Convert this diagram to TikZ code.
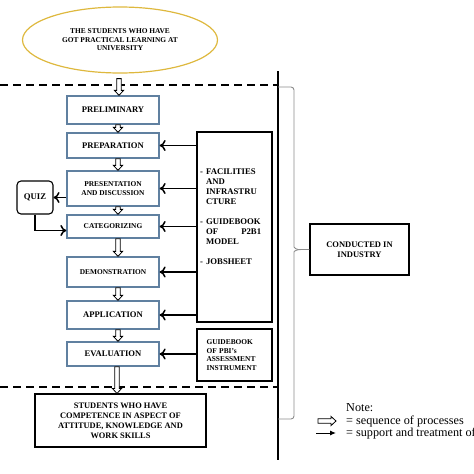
\documentclass[tikz,border=0pt]{standalone}
\usepackage{fontspec}
\setmainfont{Liberation Serif}
\usepackage{xcolor}
\usetikzlibrary{shapes.geometric, arrows.meta, calc}
\definecolor{stageblue}{RGB}{96,128,160}
\definecolor{ovalgold}{RGB}{222,184,62}
\definecolor{bracegray}{RGB}{140,140,140}
\tikzstyle{oval}     = [ellipse, minimum width=195pt, minimum height=66pt, text centered, draw=ovalgold, line width=1.2pt, font=\bfseries\fontsize{7.4}{8.5}\selectfont]
\tikzstyle{stage}    = [rectangle, minimum width=92pt, text centered, draw=stageblue, line width=1.3pt, font=\bfseries\fontsize{8.6}{10}\selectfont]
\tikzstyle{stagesm}  = [stage, font=\bfseries\fontsize{7.4}{9}\selectfont]
\tikzstyle{plainbox} = [rectangle, text centered, draw=black, line width=1.1pt, font=\bfseries\fontsize{8.5}{10.5}\selectfont]
\tikzstyle{feedarrow} = [line width=1.5pt, -{Computer Modern Rightarrow[length=6pt, width=11pt, line width=1.5pt]}]
\tikzstyle{legend}   = [line width=1pt, -{Latex[length=6pt,width=5pt]}]
\tikzstyle{cut}      = [line width=1.6pt, dash pattern=on 8pt off 5pt]
\tikzstyle{brace}    = [draw=bracegray, line width=0.9pt, rounded corners=3pt]
\tikzstyle{seqarrow} = [draw, line width=0.8pt, fill=white, to path={
    let \p1=(\tikztostart), \p2=(\tikztotarget),
        \n1={veclen(\x2-\x1,\y2-\y1)}, \n2={(\x2-\x1)/\n1}, \n3={(\y2-\y1)/\n1} in
    ({\x1-2.3*(\n3)},{\y1+2.3*(\n2)})
    -- ({\x2-5*(\n2)-2.3*(\n3)},{\y2-5*(\n3)+2.3*(\n2)})
    -- ({\x2-5*(\n2)-4.6*(\n3)},{\y2-5*(\n3)+4.6*(\n2)})
    -- (\x2,\y2)
    -- ({\x2-5*(\n2)+4.6*(\n3)},{\y2-5*(\n3)-4.6*(\n2)})
    -- ({\x2-5*(\n2)+2.3*(\n3)},{\y2-5*(\n3)-2.3*(\n2)})
    -- ({\x1+2.3*(\n3)},{\y1-2.3*(\n2)}) -- cycle}]
\tikzset{every node/.style={align=center}}

\begin{document}
\begin{tikzpicture}[x=1pt, y=-1pt]
    \useasboundingbox (0,0) rectangle (474,474);

    \node (top)  at (120,40)    [oval]    {THE STUDENTS WHO HAVE\\GOT PRACTICAL LEARNING AT\\UNIVERSITY};
    \node (prel) at (113,110)   [stage,   minimum height=28pt] {PRELIMINARY};
    \node (prep) at (113,145.5) [stage,   minimum height=25pt] {PREPARATION};
    \node (pres) at (113,188.5) [stagesm, minimum height=35pt] {PRESENTATION\\AND DISCUSSION};
    \node (cat)  at (113,226.5) [stagesm, minimum height=23pt] {CATEGORIZING};
    \node (demo) at (113,272)   [stagesm, minimum height=30pt] {DEMONSTRATION};
    \node (app)  at (113,315)   [stage,   minimum height=28pt] {APPLICATION};
    \node (eval) at (113,354)   [stage,   minimum height=24pt] {EVALUATION};
    \node (quiz) at (35,197.5)  [plainbox, rounded corners=4pt, minimum width=36pt, minimum height=33pt,
                                 font=\bfseries\fontsize{8.7}{10}\selectfont] {QUIZ};
    \node (final) at (120.5,420.5) [plainbox, minimum width=171pt, minimum height=53pt,
                                 font=\bfseries\fontsize{8.4}{10}\selectfont]
          {STUDENTS WHO HAVE\\COMPETENCE IN ASPECT OF\\ATTITUDE, KNOWLEDGE AND\\WORK SKILLS};

    % supporting resources
    \node (res)  at (234.5,227) [plainbox, minimum width=75pt, minimum height=190pt] {};
    \node (reslist) at (200,167) [anchor=north west, inner sep=0pt, align=left,
                                 font=\bfseries\fontsize{8.7}{10}\selectfont]
          {\begin{tabular}{@{}l@{\hspace{3pt}}p{55pt}@{}}
           - & FACILITIES\\ & AND\\ & INFRASTRU\\ & CTURE\\ & \\
           - & GUIDEBOOK\\ & OF\hfill P2B1\\ & MODEL\\ & \\
           - & JOBSHEET
           \end{tabular}};
    \node (inst) at (234.5,355) [plainbox, minimum width=75pt, minimum height=52pt, text width=56pt, align=left,
                                 font=\bfseries\fontsize{7.4}{8.8}\selectfont]
          {GUIDEBOOK\\OF PBI's\\ASSESSMENT\\INSTRUMENT};
    \node (ind)  at (359.5,249.5) [plainbox, minimum width=99pt, minimum height=51pt] {CONDUCTED IN\\INDUSTRY};

    % frame
    \draw [cut] (0,85) -- (278,85);
    \draw [cut] (0,387) -- (278,387);
    \draw [line width=1.6pt] (278,71) -- (278,460);
    \draw [brace] (278,87) -- (294,87) -- (294,244) .. controls (294,248) and (297,249.5) .. (301,249.5) -- (ind.west);
    \draw [brace] (278,419) -- (294,419) -- (294,255) .. controls (294,251) and (297,249.5) .. (301,249.5);

    % sequence of processes
    \draw [seqarrow] ([xshift=-1pt,yshift=-5pt]top.south) to ([xshift=6pt]prel.north);
    \draw [seqarrow] ([xshift=5pt]prel.south) to ([xshift=5pt]prep.north);
    \draw [seqarrow] ([xshift=5pt]prep.south) to ([xshift=5pt]pres.north);
    \draw [seqarrow] ([xshift=5pt]pres.south) to ([xshift=5pt]cat.north);
    \draw [seqarrow] ([xshift=5pt]cat.south)  to ([xshift=5pt]demo.north);
    \draw [seqarrow] ([xshift=5pt]demo.south) to ([xshift=5pt]app.north);
    \draw [seqarrow] ([xshift=5pt]app.south)  to ([xshift=5pt]eval.north);
    \draw [seqarrow] ([xshift=4pt]eval.south) to ([xshift=-3.5pt]final.north);

    % support
    \draw [feedarrow] (res.west |- prep.east) -- (prep.east);
    \draw [feedarrow] (res.west |- pres.east) -- (pres.east);
    \draw [feedarrow] (res.west |- cat.east)  -- (cat.east);
    \draw [feedarrow] (res.west |- demo.east) -- (demo.east);
    \draw [feedarrow] (res.west |- app.east)  -- (app.east);
    \draw [feedarrow] (inst.west |- eval.east) -- (eval.east);
    \draw [feedarrow] (pres.west |- quiz.east) -- (quiz.east);
    \draw [feedarrow] (quiz.south) |- ([yshift=-4pt]cat.west);

    % note
    \node (note)   at (346,411) [anchor=base west, inner sep=0pt, font=\fontsize{12.2}{14}\selectfont] {Note:};
    \node (seqtxt) at (346,424) [anchor=base west, inner sep=0pt, font=\fontsize{12.2}{14}\selectfont] {= sequence of processes};
    \node (suptxt) at (346,436) [anchor=base west, inner sep=0pt, font=\fontsize{12.2}{14}\selectfont] {= support and treatment of};
    \coordinate (seqs) at (318,421);
    \coordinate (sups) at (316,433);
    \draw [seqarrow] (seqs) to ([xshift=-10pt,yshift=3pt]seqtxt.base west);
    \draw [legend]   (sups) -- ([xshift=-10pt,yshift=3pt]suptxt.base west);
\end{tikzpicture}
\end{document}
